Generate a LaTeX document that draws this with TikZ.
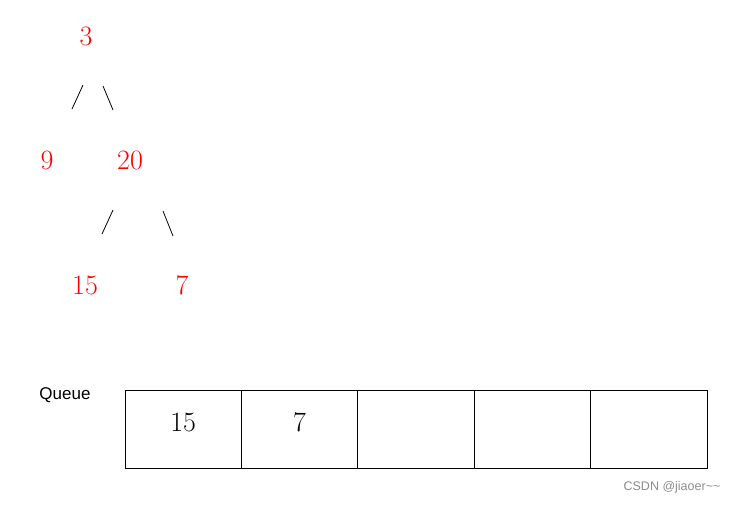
\documentclass[tikz,border=0pt]{standalone}
\usepackage{fontspec}
\newfontfamily\queuefont{Liberation Sans}
\usetikzlibrary{positioning}

\begin{document}
\begin{tikzpicture}[x=1pt,y=-1pt,
    key/.style={text=red,font=\fontsize{28}{30}\selectfont,inner sep=0pt},
    edge/.style={line width=0.8pt},
    cell/.style={draw,line width=0.8pt,minimum width=116.4pt,minimum height=78pt,
                 inner sep=0pt,outer sep=0pt,text depth=14pt,font=\fontsize{28}{30}\selectfont}]
  \useasboundingbox (0,0) rectangle (738,504);

  % tree
  \node[key] (n3)  at (86,36)   {3};
  \node[key] (n9)  at (47,160)  {9};
  \node[key] (n20) at (130,160) {20};
  \node[key] (n15) at (85,285)  {15};
  \node[key] (n7)  at (182,285) {7};

  \coordinate (a1) at (72,109);  \coordinate (a2) at (83,85);
  \coordinate (b1) at (103,86);  \coordinate (b2) at (113,110);
  \coordinate (c1) at (102,234); \coordinate (c2) at (113,210);
  \coordinate (d1) at (163,211); \coordinate (d2) at (173,236);
  \draw[edge] (a1) -- (a2);
  \draw[edge] (b1) -- (b2);
  \draw[edge] (c1) -- (c2);
  \draw[edge] (d1) -- (d2);

  % queue
  \node[font=\queuefont\fontsize{17}{19}\selectfont,inner sep=0pt] (qlabel) at (65,395) {Queue};
  \node[cell] (q1) at (183.2,429) {15};
  \node[cell] (q2) [right=0pt of q1] {7};
  \node[cell] (q3) [right=0pt of q2] {};
  \node[cell] (q4) [right=0pt of q3] {};
  \node[cell] (q5) [right=0pt of q4] {};

  \node[font=\queuefont\fontsize{12.5}{14}\selectfont,text=black!45,inner sep=0pt]
    (mark) at (672,487) {CSDN @jiaoer\textasciitilde\textasciitilde};
\end{tikzpicture}
\end{document}
